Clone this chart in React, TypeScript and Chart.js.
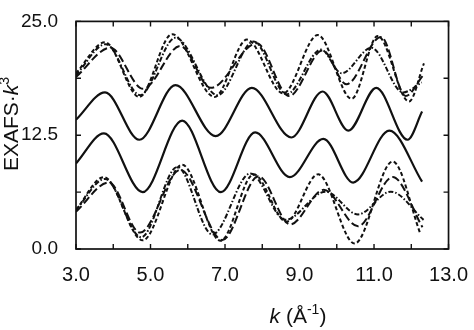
import React, { useEffect, useRef } from 'react';
import { Chart, registerables } from 'chart.js';

Chart.register(...registerables);

const FONT = '"Liberation Sans", Arial, Helvetica, sans-serif';
const INK = '#111111';

// Tick labels
const xTickLabels = [3, 5, 7, 9, 11, 13];
const yTickLabels = [0, 12.5, 25];

// Upper group (dashed)
const topShortK = [3.0, 3.78, 4.70, 5.58, 6.72, 7.59, 8.56, 9.49, 10.40, 11.10, 11.94, 12.34];
const topShortV = [19.3, 22.7, 16.7, 23.6, 16.7, 23.0, 17.1, 23.5, 16.5, 23.4, 16.2, 20.4];
const topLongK = [3.0, 3.92, 4.80, 5.80, 6.62, 7.85, 8.72, 9.62, 10.26, 11.19, 11.85, 12.30];
const topLongV = [18.9, 22.1, 17.6, 22.3, 17.7, 22.6, 16.8, 21.8, 18.1, 23.3, 16.8, 19.0];
const topDotK = [3.0, 3.80, 4.72, 5.67, 6.80, 7.77, 8.65, 9.58, 10.13, 10.93, 11.78, 12.28];
const topDotV = [19.1, 22.5, 16.9, 23.2, 16.9, 22.8, 17.0, 21.9, 19.3, 22.1, 17.2, 18.3];

// Middle solid curves
const solidUpperK = [3.0, 3.78, 4.70, 5.67, 6.75, 7.72, 8.78, 9.62, 10.31, 11.06, 11.90, 12.29];
const solidUpperV = [14.2, 17.2, 12.0, 18.0, 12.4, 17.7, 12.25, 17.3, 13.0, 17.7, 12.0, 15.1];
const solidLowerK = [3.0, 3.75, 4.79, 5.85, 6.89, 7.81, 8.74, 9.64, 10.44, 11.41, 12.29];
const solidLowerV = [9.4, 12.7, 6.25, 14.1, 6.25, 12.8, 7.9, 12.1, 7.3, 13.0, 7.4];

// Lower group (dashed)
const botShortK = [3.0, 3.75, 4.79, 5.85, 6.88, 7.77, 8.65, 9.50, 10.48, 11.50, 12.25];
const botShortV = [4.3, 7.9, 0.95, 9.25, 0.9, 8.2, 3.0, 8.2, 0.6, 9.6, 1.6];
const botLongK = [3.0, 3.88, 4.72, 5.80, 6.93, 7.90, 8.75, 9.65, 10.57, 11.50, 12.30];
const botLongV = [4.1, 7.3, 1.8, 8.7, 1.0, 8.0, 2.7, 6.5, 2.5, 7.9, 2.4];
const botDotK = [3.0, 3.78, 4.75, 5.72, 6.66, 7.68, 8.62, 9.70, 10.57, 11.45, 12.33];
const botDotV = [4.3, 7.7, 1.3, 9.0, 1.6, 8.3, 3.2, 6.3, 3.8, 6.3, 3.2];

const SHORT = [4, 2.5];
const LONG = [8, 3.5];
const DOTDASH = [5, 2, 1.5, 2];

function pts(k: number[], v: number[]) {
  return k.map((x, i) => ({ x, y: v[i] }));
}

function line(k: number[], v: number[], dash: number[], width: number) {
  return {
    data: pts(k, v),
    showLine: true,
    borderColor: INK,
    borderWidth: width,
    borderDash: dash,
    pointRadius: 0,
    fill: false,
    cubicInterpolationMode: 'monotone' as const,
  };
}

type Seg = { t: string; italic?: boolean; sup?: boolean };

function drawRich(ctx: CanvasRenderingContext2D, segs: Seg[], cx: number, baseY: number, size: number) {
  const fontFor = (s: Seg) => `${s.italic ? 'italic ' : ''}${s.sup ? Math.round(size * 0.65) : size}px ${FONT}`;
  let total = 0;
  const widths = segs.map((s) => {
    ctx.font = fontFor(s);
    const w = ctx.measureText(s.t).width;
    total += w;
    return w;
  });
  let x = cx - total / 2;
  ctx.textAlign = 'left';
  ctx.textBaseline = 'alphabetic';
  segs.forEach((s, i) => {
    ctx.font = fontFor(s);
    ctx.fillText(s.t, x, s.sup ? baseY - size * 0.42 : baseY);
    x += widths[i];
  });
}

const framePlugin = {
  id: 'frameTicks',
  afterDraw(chart: any) {
    const { ctx, chartArea } = chart;
    const xs = chart.scales.x;
    const ys = chart.scales.y;
    ctx.save();
    ctx.strokeStyle = INK;
    ctx.lineWidth = 1.7;
    ctx.setLineDash([]);
    ctx.strokeRect(chartArea.left, chartArea.top, chartArea.right - chartArea.left, chartArea.bottom - chartArea.top);
    const L = 5;
    ctx.lineWidth = 1.4;
    ctx.beginPath();
    xs.ticks.forEach((t: any) => {
      const px = xs.getPixelForValue(t.value);
      ctx.moveTo(px, chartArea.bottom);
      ctx.lineTo(px, chartArea.bottom - L);
      ctx.moveTo(px, chartArea.top);
      ctx.lineTo(px, chartArea.top + L);
    });
    ys.ticks.forEach((t: any) => {
      const py = ys.getPixelForValue(t.value);
      ctx.moveTo(chartArea.left, py);
      ctx.lineTo(chartArea.left + L, py);
      ctx.moveTo(chartArea.right, py);
      ctx.lineTo(chartArea.right - L, py);
    });
    ctx.stroke();

    ctx.fillStyle = INK;
    // x axis title
    drawRich(
      ctx,
      [{ t: 'k', italic: true }, { t: ' (Å' }, { t: '-1', sup: true }, { t: ')' }],
      298,
      323,
      21
    );
    // y axis title
    ctx.translate(18, 124);
    ctx.rotate(-Math.PI / 2);
    drawRich(ctx, [{ t: 'EXAFS·' }, { t: 'k', italic: true }, { t: '3', sup: true }], 0, 0, 21);
    ctx.restore();
  },
};

export default function App() {
  const ref = useRef<HTMLCanvasElement | null>(null);

  useEffect(() => {
    if (!ref.current) return;
    const chart = new Chart(ref.current, {
      type: 'scatter',
      data: {
        datasets: [
          line(topShortK, topShortV, SHORT, 2),
          line(topLongK, topLongV, LONG, 2),
          line(topDotK, topDotV, DOTDASH, 2),
          line(solidUpperK, solidUpperV, [], 2.2),
          line(solidLowerK, solidLowerV, [], 2.2),
          line(botShortK, botShortV, SHORT, 2),
          line(botLongK, botLongV, LONG, 2),
          line(botDotK, botDotV, DOTDASH, 2),
        ] as any,
      },
      options: {
        animation: false,
        responsive: true,
        maintainAspectRatio: false,
        layout: { padding: { top: 13, right: 20, left: 0, bottom: 0 } },
        plugins: { legend: { display: false }, tooltip: { enabled: false } },
        scales: {
          x: {
            type: 'linear',
            position: 'bottom',
            min: 3,
            max: 13,
            grid: { display: false },
            border: { display: false },
            ticks: {
              stepSize: 1,
              autoSkip: false,
              maxRotation: 0,
              color: INK,
              padding: 6,
              font: { family: FONT, size: 20 },
              callback: (v: any) => (xTickLabels.includes(Number(v)) ? Number(v).toFixed(1) : ''),
            },
            afterFit: (s: any) => {
              s.height = 81;
            },
          },
          y: {
            type: 'linear',
            min: 0,
            max: 25,
            grid: { display: false },
            border: { display: false },
            ticks: {
              stepSize: 6.25,
              autoSkip: false,
              color: INK,
              padding: 10,
              font: { family: FONT, size: 19 },
              callback: (v: any) => (yTickLabels.includes(Number(v)) ? Number(v).toFixed(1) : ''),
            },
            afterFit: (s: any) => {
              s.width = 76;
            },
          },
        },
      },
      plugins: [framePlugin],
    });
    return () => chart.destroy();
  }, []);

  return (
    <div style={{ position: 'absolute', left: 0, top: 0, width: 474, height: 330, background: '#fff' }}>
      <canvas ref={ref} />
    </div>
  );
}
